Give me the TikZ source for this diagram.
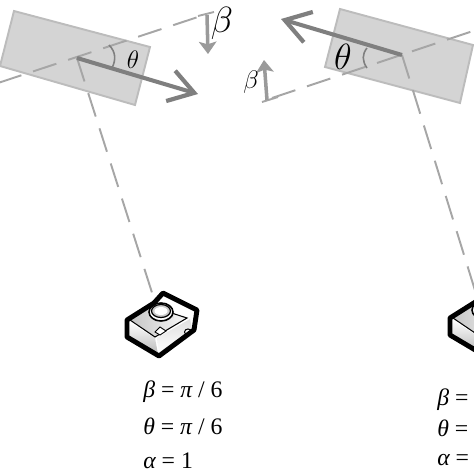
\documentclass[tikz,border=0pt]{standalone}
\usepackage{amsmath}
\usepackage{fontspec}
\usepackage{tikz}
\usetikzlibrary{arrows.meta}
\newfontfamily\valuefont{Liberation Serif}
\definecolor{plategray}{HTML}{D4D4D4}
\definecolor{plateedge}{HTML}{BCBCBC}
\definecolor{dashgray}{HTML}{A6A6A6}
\definecolor{arrowgray}{HTML}{7F7F7F}
\definecolor{tiltgray}{HTML}{9A9A9A}
\tikzset{
  plate/.style={fill=plategray, draw=plateedge, line width=1.1pt},
  sightline/.style={draw=dashgray, line width=1.1pt, dash pattern=on 14pt off 7pt},
  tickline/.style={draw=dashgray, line width=1.1pt},
  heading/.style={draw=arrowgray, line width=2.3pt, -{Straight Barb[length=14pt, width=18pt, line width=2.4pt]}},
  tilt/.style={draw=tiltgray, line width=2pt, -{Stealth[length=7pt, width=10pt, inset=1.5pt]}},
  anglearc/.style={draw=arrowgray, line width=0.9pt},
  biglabel/.style={inner sep=0pt, font=\fontsize{22}{26}\selectfont},
  midlabel/.style={inner sep=0pt, font=\fontsize{14}{16}\selectfont},
  eqlabel/.style={inner sep=0pt, anchor=west, font=\valuefont\fontsize{13.5}{16}\selectfont},
  camera/.pic={
    % body
    \fill[white] (163,293) -- (197,310) -- (194,330) -- (159,356) -- (127,337) -- (127,320) -- (154,303) -- cycle;
    \shade[top color=white, bottom color=gray!55] (129,322) -- (155,338) -- (158,354) -- (129,336) -- cycle;
    \shade[top color=gray!25, bottom color=white] (157,338) -- (190,319) -- (192,329) -- (159,353) -- cycle;
    \shade[left color=gray!45, right color=gray!5] (131,320) -- (153,307) -- (187,318) -- (155,337) -- cycle;
    \draw[line width=0.6pt] (130,320) -- (155,337) -- (187,318) -- (153,307);
    % window
    \draw[fill=white, line width=0.5pt] (155,332) -- (160,327) -- (166,331) -- (160,335) -- cycle;
    % button
    \draw[fill=white, line width=0.6pt] (188,332) circle [x radius=3.5, y radius=3];
    % lens
    \shade[left color=gray!20, right color=gray!60] (149,312) -- (149,318) arc [start angle=180, end angle=0, x radius=12, y radius=-6] -- (173,312) -- cycle;
    \draw[fill=white, line width=0.9pt] (161,312) ellipse [x radius=12, y radius=9];
    \draw[fill=gray!40, line width=0.7pt] (161,311) ellipse [x radius=9.5, y radius=6.5];
    \fill[white] (161,311) ellipse [x radius=6.5, y radius=4];
    % outline
    \draw[line width=2.8pt, line join=round] (163,293) -- (197,310) -- (194,330) -- (159,356) -- (127,337) -- (127,320) -- (154,303) -- cycle;
  }
}
\begin{document}
\begin{tikzpicture}[x=0.02cm, y=-0.02cm]
  \useasboundingbox (0,0) rectangle (474,474);
  \clip (0,0) rectangle (474,474);
  \coordinate (pivotL) at (77,58);
  \coordinate (pivotR) at (402,55);
  \coordinate (camL) at (155,302);
  \coordinate (camR) at (478,300);
  % left plate
  \draw[plate] (14,11) -- (150,47) -- (135,105) -- (0,66) -- cycle;
  \draw[sightline] (-2,83) -- (207,14);
  \draw[sightline] (pivotL) -- (camL);
  \draw[tickline] (198,16) -- (214,12);
  \draw[tilt] (207,15) -- (208,54);
  \draw[heading] (pivotL) -- (198,94);
  \draw[anglearc] (109,45) .. controls (116,52) and (116,60) .. (112,68);
  \node[midlabel] (thetaL) at (133,60) {$\theta$};
  \node[biglabel] (betaL) at (222,23) {$\beta$};
  % right plate
  \draw[plate] (340,9) -- (473,45) -- (460,103) -- (325,67) -- cycle;
  \draw[sightline] (272,98) -- (476,30);
  \draw[sightline] (pivotR) -- (camR);
  \draw[tickline] (262,102) -- (278,97);
  \draw[tilt] (267,100) -- (264,60);
  \draw[heading] (pivotR) -- (281,19);
  \draw[anglearc] (367,48) .. controls (362,54) and (362,61) .. (367,68);
  \node[biglabel] (thetaR) at (343,57) {$\theta$};
  \node[midlabel] (betaR) at (251,82) {$\beta$};
  % cameras
  \pic at (0,0) {camera};
  \pic at (323,-2) {camera};
  % left values
  \node[eqlabel] (betaValL) at (143,392) {\itshape β\upshape\ = \itshape π\upshape\ / 6};
  \node[eqlabel] (thetaValL) at (143,426) {\itshape θ\upshape\ = \itshape π\upshape\ / 6};
  \node[eqlabel] (alphaValL) at (143,461) {\itshape α\upshape\ = 1};
  % right values
  \node[eqlabel] (betaValR) at (437,400) {\itshape β\upshape\ = \itshape π\upshape\ / 6};
  \node[eqlabel] (thetaValR) at (437,428) {\itshape θ\upshape\ = \itshape π\upshape\ / 6};
  \node[eqlabel] (alphaValR) at (437,458) {\itshape α\upshape\ = 1};
\end{tikzpicture}
\end{document}
